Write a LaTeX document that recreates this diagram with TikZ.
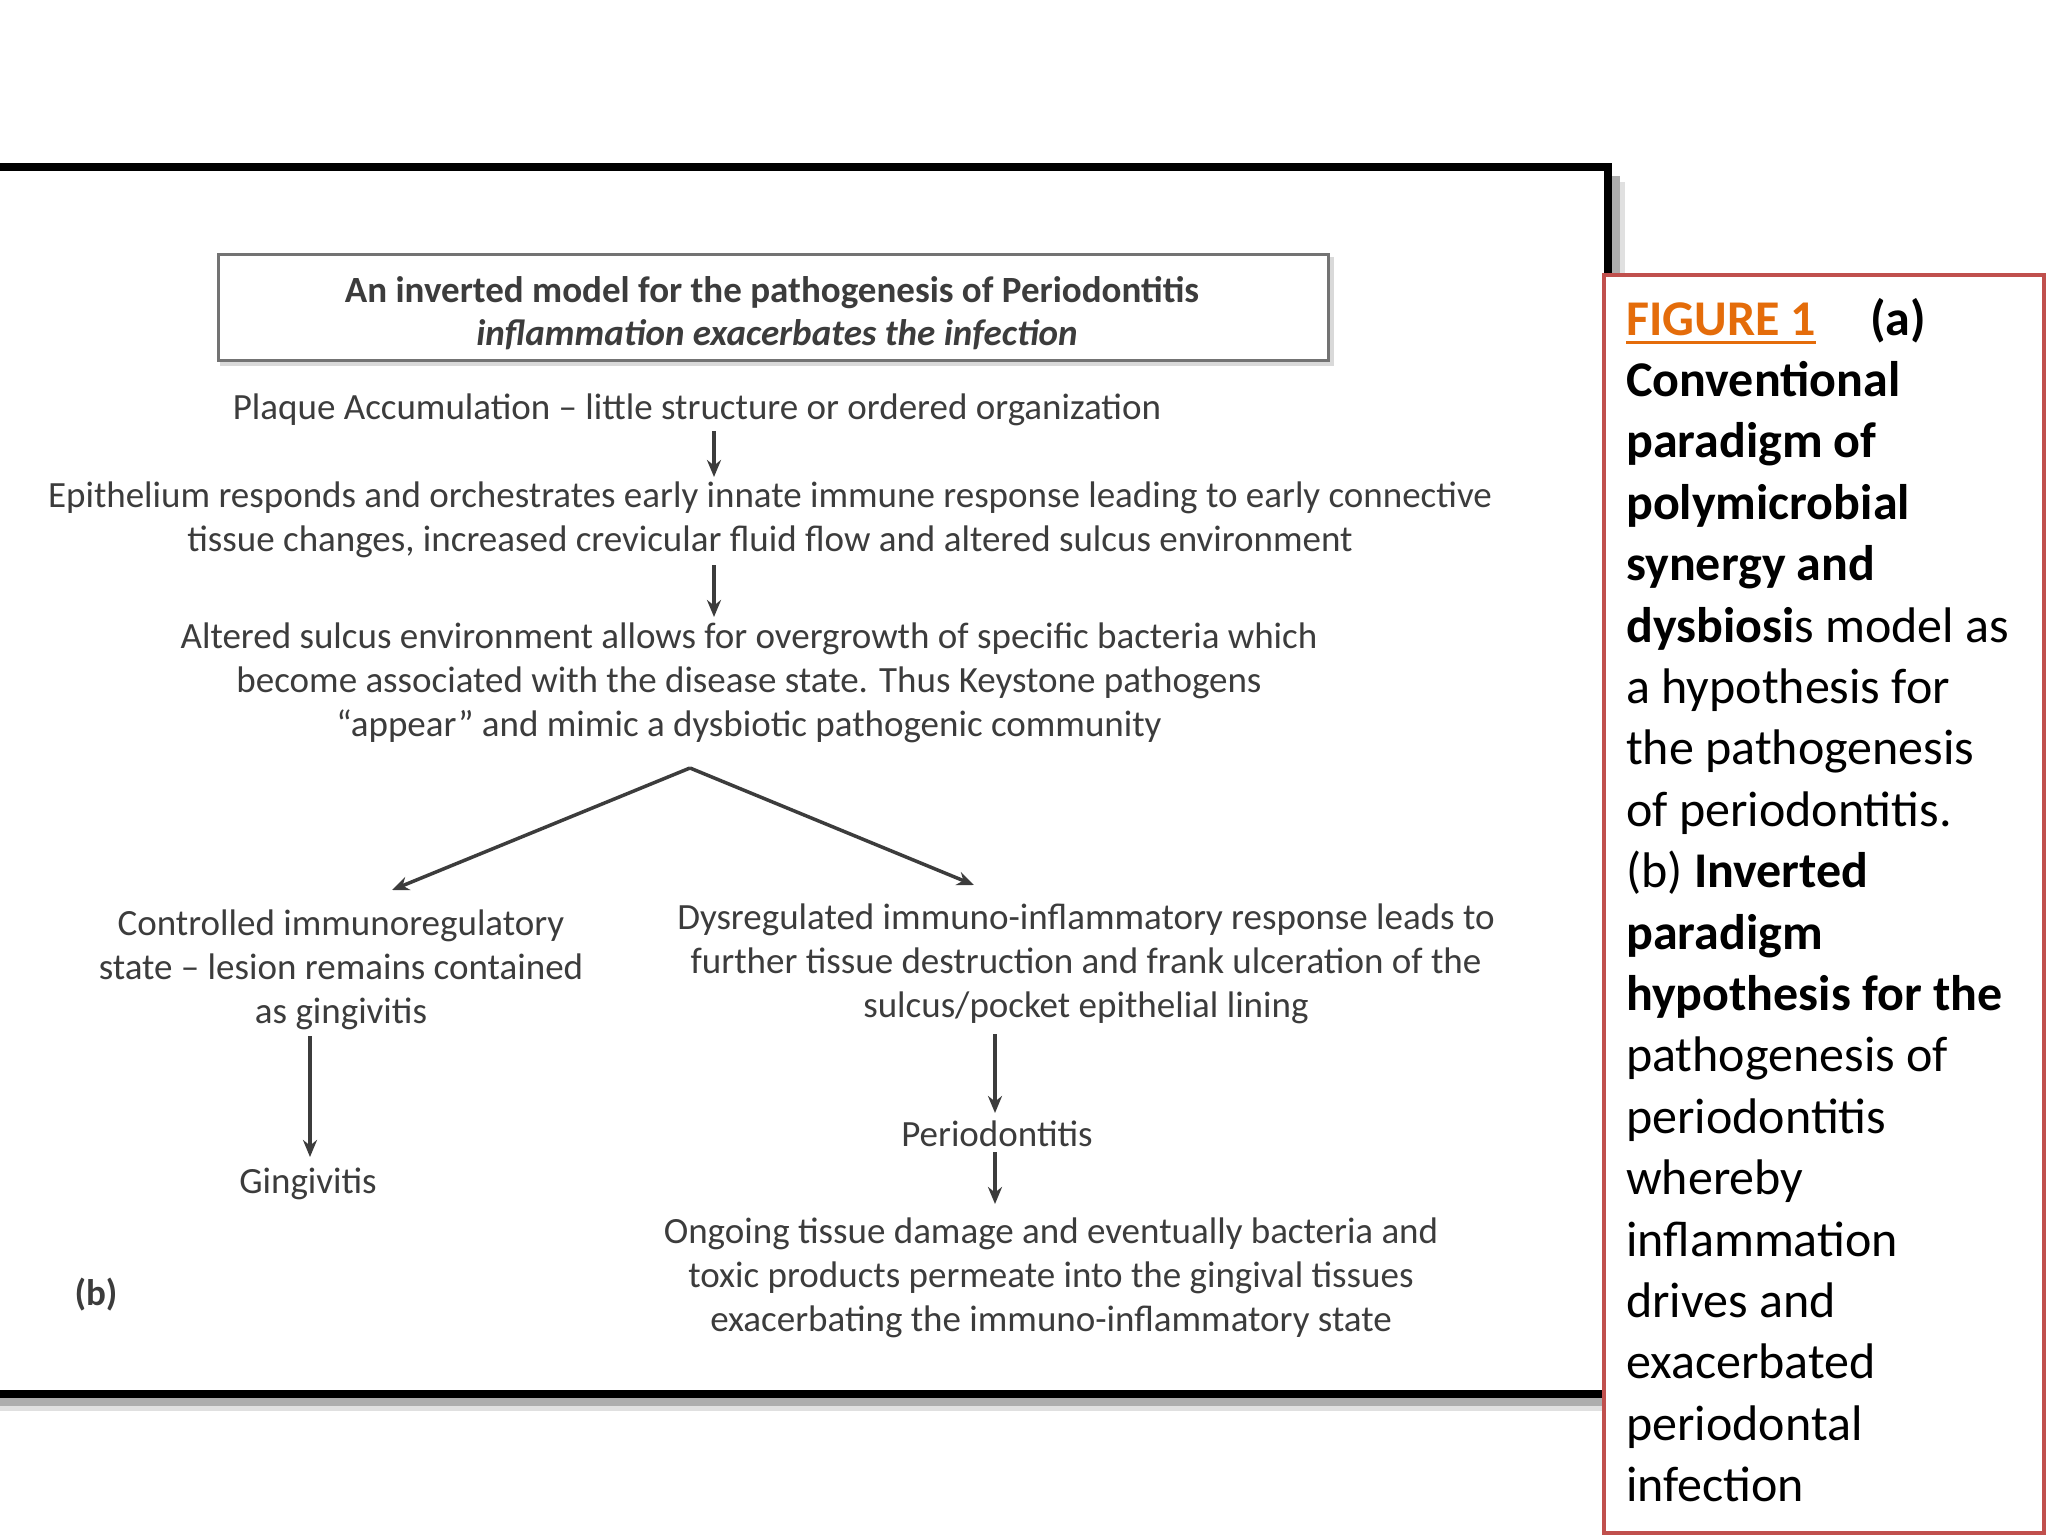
\documentclass[tikz,border=0pt]{standalone}
\usepackage{fontspec}
\setmainfont{Carlito}
\usetikzlibrary{arrows.meta,calc}
\definecolor{cred}{HTML}{C0504D}
\definecolor{corange}{HTML}{E46C0A}
\definecolor{dgray}{HTML}{3C3C3C}
\newcommand{\dfont}{\fontsize{37}{44}\selectfont}
\begin{document}
\begin{tikzpicture}[x=1pt,y=-1pt,
  dtext/.style={font=\dfont, text=dgray, inner sep=0pt, align=center},
  captext/.style={anchor=base west, inner sep=0pt, font=\fontsize{50}{61}\selectfont},
  arr/.style={draw=dgray, line width=3.5pt, -{Stealth[length=17pt,width=14pt]}},
  outerframe/.style={line width=8pt, miter limit=10}]
\useasboundingbox (0,0) rectangle (2048,1536);
\fill[white] (0,0) rectangle (2048,1536);
% outer frame with shadow
\draw[line width=6pt, black!12] (1622,182) -- (1622,1408) -- (-20,1408);
\draw[line width=8pt, black!32] (1616,176) -- (1616,1402) -- (-20,1402);
\draw[outerframe] (-20,167) -- (1608,167) -- (1608,1394) -- (-20,1394);
% title box
\draw[line width=4pt, black!15] (222,259) rectangle (1332,364);
\draw[line width=3pt, black!55, fill=white] (218,254) rectangle (1328,360);
\node[dtext, font=\dfont\bfseries] (t1) at (772,293) {An inverted model for the pathogenesis of Periodontitis};
\node[dtext, font=\dfont\bfseries\itshape] (t2) at (777,335) {inflammation exacerbates the infection};
% flow
\node[dtext] (plaque) at (697,410) {Plaque Accumulation -- little structure or ordered organization};
\node[dtext] (epi) at (770,520) {Epithelium responds and orchestrates early innate immune response leading to early connective\\tissue changes, increased crevicular fluid flow and altered sulcus environment};
\node[dtext] (alt) at (749,683) {Altered sulcus environment allows for overgrowth of specific bacteria which\\become associated with the disease state. Thus Keystone pathogens\\“appear” and mimic a dysbiotic pathogenic community};
\node[dtext] (left) at (341,970) {Controlled immunoregulatory\\state -- lesion remains contained\\as gingivitis};
\node[dtext] (right) at (1086,964) {Dysregulated immuno-inflammatory response leads to\\further tissue destruction and frank ulceration of the\\sulcus/pocket epithelial lining};
\node[dtext] (ging) at (308,1184) {Gingivitis};
\node[dtext] (perio) at (997,1134) {Periodontitis};
\node[dtext] (ongo) at (1051,1278) {Ongoing tissue damage and eventually bacteria and\\toxic products permeate into the gingival tissues\\exacerbating the immuno-inflammatory state};
\node[dtext, font=\dfont\bfseries] (blab) at (96,1295) {(b)};
\coordinate (ax) at (714,0);
\coordinate (apex) at (690,768);
\draw[arr] ($(plaque.center -| ax)+(0,21)$) -- ($(epi.center -| ax)+(0,-43)$);
\draw[arr] ($(epi.center -| ax)+(0,45)$) -- ($(alt.center -| ax)+(0,-66)$);
\draw[arr] (apex) -- ($(left.center)+(51,-80)$);
\draw[arr] (apex) -- ($(right.center)+(-112,-79)$);
\draw[arr] ($(left.center)+(-31,66)$) -- ($(ging.center)+(2,-27)$);
\draw[arr] ($(right.center)+(-91,70)$) -- ($(perio.center)+(-2,-21)$);
\draw[arr] ($(perio.center)+(-2,18)$) -- ($(ongo.center)+(-56,-74)$);
% caption box
\draw[line width=4pt, cred, fill=white] (1604,275) rectangle (2044,1533);
\node[captext, text=corange, font=\fontsize{50}{61}\selectfont\bfseries] (c0) at (1626,335) {FIGURE 1};
\draw[corange, line width=3pt] ([yshift=-7pt]c0.base west) -- ([yshift=-7pt]c0.base east);
\node[captext, font=\fontsize{50}{61}\selectfont\bfseries] (c0b) at (1870,335) {(a)};
\node[captext, font=\fontsize{50}{61}\selectfont\bfseries] (c1) at (1626,396.4) {Conventional};
\node[captext, font=\fontsize{50}{61}\selectfont\bfseries] (c2) at (1626,457.8) {paradigm of};
\node[captext, font=\fontsize{50}{61}\selectfont\bfseries] (c3) at (1626,519.2) {polymicrobial};
\node[captext, font=\fontsize{50}{61}\selectfont\bfseries] (c4) at (1626,580.6) {synergy and};
\node[captext] (c5) at (1626,642) {\textbf{dysbiosi}s model as};
\node[captext] (c6) at (1626,703.4) {a hypothesis for};
\node[captext] (c7) at (1626,764.8) {the pathogenesis};
\node[captext] (c8) at (1626,826.2) {of periodontitis.};
\node[captext] (c9) at (1626,887.6) {(b) \textbf{Inverted}};
\node[captext, font=\fontsize{50}{61}\selectfont\bfseries] (c10) at (1626,949) {paradigm};
\node[captext, font=\fontsize{50}{61}\selectfont\bfseries] (c11) at (1626,1010.4) {hypothesis for the};
\node[captext] (c12) at (1626,1071.8) {pathogenesis of};
\node[captext] (c13) at (1626,1133.2) {periodontitis};
\node[captext] (c14) at (1626,1194.6) {whereby};
\node[captext] (c15) at (1626,1256) {inflammation};
\node[captext] (c16) at (1626,1317.4) {drives and};
\node[captext] (c17) at (1626,1378.8) {exacerbated};
\node[captext] (c18) at (1626,1440.2) {periodontal};
\node[captext] (c19) at (1626,1501.6) {infection};
\end{tikzpicture}
\end{document}
